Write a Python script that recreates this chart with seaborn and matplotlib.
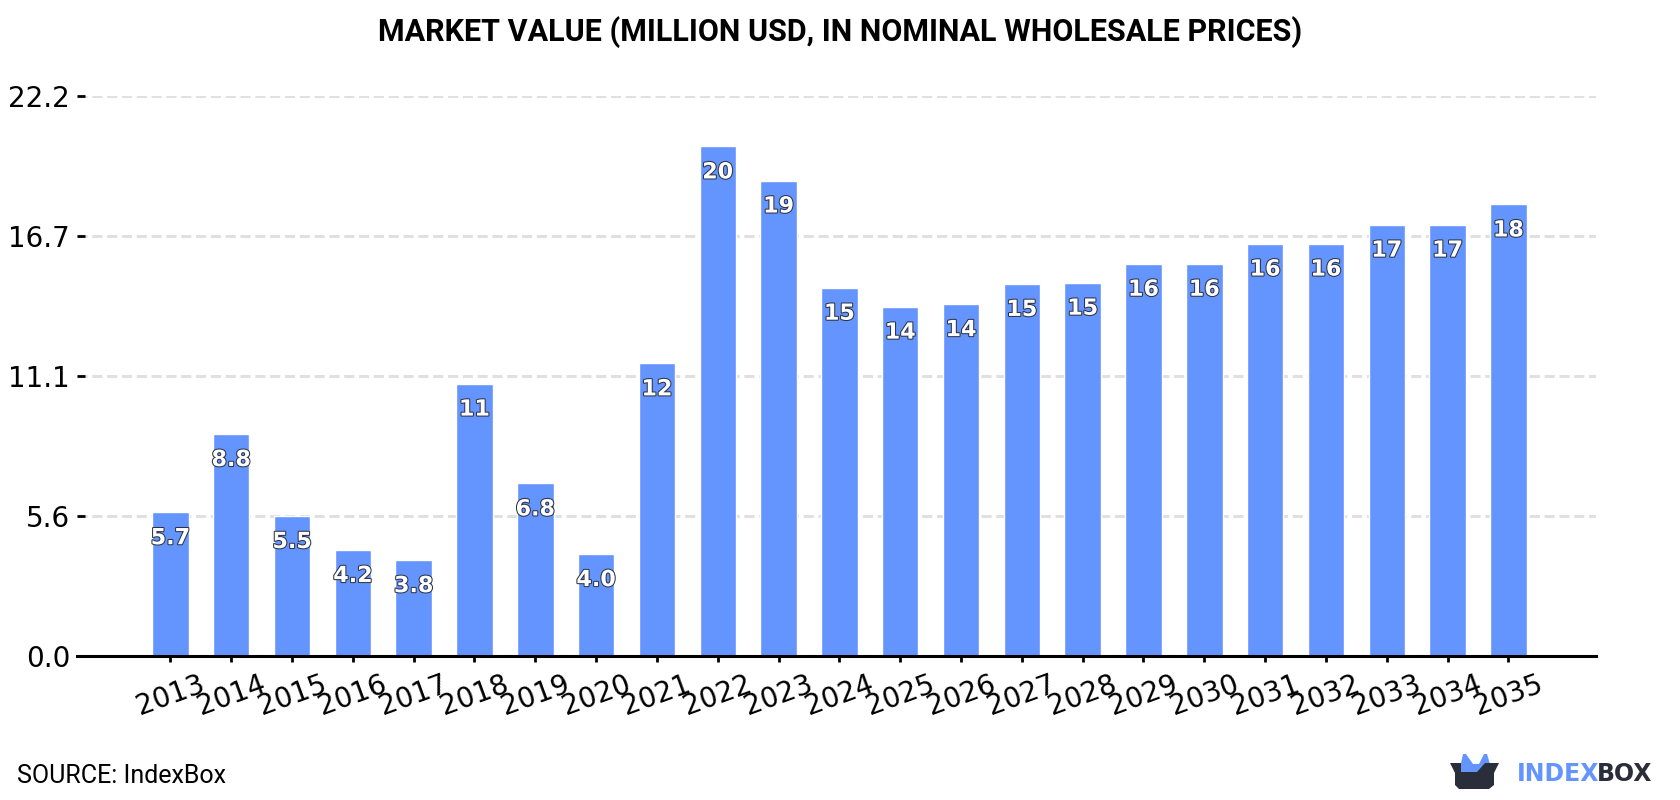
import matplotlib
matplotlib.use("Agg")
import matplotlib.pyplot as plt
import matplotlib.patheffects as pe
from matplotlib.patches import Polygon
import pandas as pd
import seaborn as sns

years = [str(y) for y in range(2013, 2036)]
market_value = [5.7, 8.8, 5.55, 4.2, 3.8, 10.8, 6.84, 4.04, 11.6, 20.2, 18.85, 14.6,
                13.85, 13.95, 14.75, 14.8, 15.55, 15.55, 16.35, 16.35, 17.1, 17.1, 17.9]
y_ticks = [0.0, 5.55, 11.1, 16.65, 22.2]
y_tick_labels = ["0.0", "5.6", "11.1", "16.7", "22.2"]

BLUE = "#6495ff"
DARK = "#2a2d3a"

sns.set_theme(style="white")
plt.rcParams["font.family"] = ["Roboto", "DejaVu Sans"]

fig = plt.figure(figsize=(16.8, 8), dpi=100)
ax = fig.add_axes([77 / 1680, 1 - 656 / 800, (1596 - 77) / 1680, 560 / 800])

frame = pd.DataFrame({"year": years, "value": market_value})
sns.barplot(data=frame, x="year", y="value", color=BLUE, saturation=1, width=0.6, ax=ax, zorder=3)

ax.set_xlim(-1.535, 23.44)
ax.set_ylim(0, 22.2)
ax.set_xlabel("")
ax.set_ylabel("")
ax.set_yticks(y_ticks, y_tick_labels)
ax.yaxis.grid(True, color="#e0e0e0", linewidth=2.2, linestyle=(0, (3.3, 1.55)), zorder=0)
ax.xaxis.grid(False)
for side in ("top", "right", "left"):
    ax.spines[side].set_visible(False)
ax.spines["bottom"].set_color("black")
ax.spines["bottom"].set_linewidth(2.2)
ax.spines["bottom"].set_zorder(5)
ax.tick_params(axis="y", direction="in", length=5.8, width=2, color="black", labelsize=20, pad=5,
               labelcolor="black", left=True)
ax.tick_params(axis="x", length=4.5, width=2, color="black", labelsize=20, pad=6,
               labelcolor="black", bottom=True)
for label in ax.get_yticklabels() + ax.get_xticklabels():
    label.set_family("DejaVu Sans")
for label in ax.get_xticklabels():
    label.set_rotation(20)

# Value labels sit just under each bar top, white with a dark outline
for i, v in enumerate(market_value):
    text = f"{v:.1f}" if v < 10 else f"{v:.0f}"
    ax.annotate(text, (i, v), xytext=(0, -26), textcoords="offset pixels", ha="center", va="center",
                fontsize=16, fontweight="bold", family="DejaVu Sans", color="white", zorder=6,
                path_effects=[pe.withStroke(linewidth=1.5, foreground="#2f3444")])

fig.text(0.5, 1 - 32 / 800, "MARKET VALUE (MILLION USD, IN NOMINAL WHOLESALE PRICES)", ha="center", va="center",
         fontsize=22, fontweight="bold", color="black")
fig.text(17 / 1680, 1 - 776 / 800, "SOURCE: IndexBox", ha="left", va="center", fontsize=18, color="black")

# Brand mark in the lower right corner, laid out in canvas pixels
logo = fig.add_axes([0, 0, 1, 1], facecolor="none", zorder=10)
logo.set_xlim(0, 1680)
logo.set_ylim(800, 0)
logo.axis("off")
logo.add_patch(Polygon([(1461, 763), (1463, 754), (1466, 754), (1473, 764), (1479, 764), (1484, 754),
                        (1487, 754), (1490, 764), (1478, 773), (1461, 773)], closed=True, fc=BLUE, ec="none"))
logo.add_patch(Polygon([(1450, 763), (1461, 763), (1461, 772), (1477, 772), (1485, 763), (1499, 763),
                        (1494, 773), (1494, 785), (1489, 789), (1459, 789), (1455, 785), (1455, 773)],
                       closed=True, fc=DARK, ec="none"))
logo.text(1517, 774, "INDEX", ha="left", va="center", fontsize=17, fontweight="bold",
          family="DejaVu Sans", color=BLUE)
logo.text(1597, 774, "BOX", ha="left", va="center", fontsize=17, fontweight="bold",
          family="DejaVu Sans", color=DARK)

fig.savefig("out.png", dpi=100, facecolor="white")
